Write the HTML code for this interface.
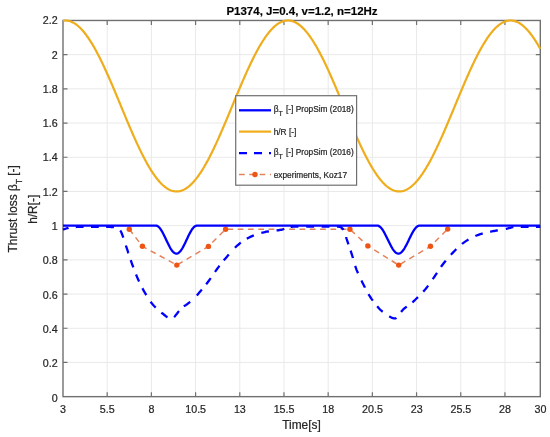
<!DOCTYPE html>
<html><head><meta charset="utf-8"><title>P1374</title>
<style>
html,body{margin:0;padding:0;background:#fff;}
body{width:550px;height:437px;overflow:hidden;}
svg{display:block;font-family:'Liberation Sans', Arial, Helvetica, sans-serif;}
text{stroke:#262626;stroke-width:0.22px;}
</style></head><body>
<svg width="550" height="437" viewBox="0 0 550 437">
<rect x="0" y="0" width="550" height="437" fill="#ffffff"/>
<path d="M107.19 20.47V396.65M151.39 20.47V396.65M195.58 20.47V396.65M239.78 20.47V396.65M283.97 20.47V396.65M328.17 20.47V396.65M372.36 20.47V396.65M416.56 20.47V396.65M460.75 20.47V396.65M504.94 20.47V396.65M63.00 362.45H540.30M63.00 328.25H540.30M63.00 294.06H540.30M63.00 259.86H540.30M63.00 225.66H540.30M63.00 191.46H540.30M63.00 157.26H540.30M63.00 123.06H540.30M63.00 88.87H540.30M63.00 54.67H540.30" stroke="#e9e9e9" stroke-width="1" fill="none"/>
<rect x="63.00" y="20.47" width="477.30" height="376.18" fill="none" stroke="#707070" stroke-width="1.4"/>
<path d="M107.19 396.65v-4.5M107.19 20.47v4.5M151.39 396.65v-4.5M151.39 20.47v4.5M195.58 396.65v-4.5M195.58 20.47v4.5M239.78 396.65v-4.5M239.78 20.47v4.5M283.97 396.65v-4.5M283.97 20.47v4.5M328.17 396.65v-4.5M328.17 20.47v4.5M372.36 396.65v-4.5M372.36 20.47v4.5M416.56 396.65v-4.5M416.56 20.47v4.5M460.75 396.65v-4.5M460.75 20.47v4.5M504.94 396.65v-4.5M504.94 20.47v4.5M63.00 362.45h4.5M540.30 362.45h-4.5M63.00 328.25h4.5M540.30 328.25h-4.5M63.00 294.06h4.5M540.30 294.06h-4.5M63.00 259.86h4.5M540.30 259.86h-4.5M63.00 225.66h4.5M540.30 225.66h-4.5M63.00 191.46h4.5M540.30 191.46h-4.5M63.00 157.26h4.5M540.30 157.26h-4.5M63.00 123.06h4.5M540.30 123.06h-4.5M63.00 88.87h4.5M540.30 88.87h-4.5M63.00 54.67h4.5M540.30 54.67h-4.5" stroke="#707070" stroke-width="1.2" fill="none"/>
<path d="M63.00 20.64 L63.80 20.54 L64.59 20.49 L65.39 20.47 L66.18 20.50 L66.98 20.57 L67.77 20.68 L68.57 20.84 L69.36 21.04 L70.16 21.29 L70.95 21.57 L71.75 21.90 L72.55 22.27 L73.34 22.68 L74.14 23.14 L74.93 23.63 L75.73 24.17 L76.52 24.75 L77.32 25.37 L78.11 26.03 L78.91 26.73 L79.71 27.47 L80.50 28.25 L81.30 29.07 L82.09 29.93 L82.89 30.83 L83.68 31.76 L84.48 32.74 L85.27 33.75 L86.07 34.79 L86.86 35.87 L87.66 36.99 L88.46 38.14 L89.25 39.33 L90.05 40.55 L90.84 41.80 L91.64 43.08 L92.43 44.40 L93.23 45.75 L94.02 47.12 L94.82 48.53 L95.62 49.97 L96.41 51.43 L97.21 52.92 L98.00 54.44 L98.80 55.99 L99.59 57.56 L100.39 59.15 L101.18 60.77 L101.98 62.41 L102.78 64.07 L103.57 65.75 L104.37 67.46 L105.16 69.18 L105.96 70.92 L106.75 72.68 L107.55 74.46 L108.34 76.25 L109.14 78.06 L109.93 79.88 L110.73 81.71 L111.53 83.56 L112.32 85.42 L113.12 87.29 L113.91 89.16 L114.71 91.05 L115.50 92.94 L116.30 94.84 L117.09 96.75 L117.89 98.66 L118.69 100.57 L119.48 102.49 L120.28 104.41 L121.07 106.33 L121.87 108.25 L122.66 110.17 L123.46 112.08 L124.25 113.99 L125.05 115.90 L125.84 117.81 L126.64 119.70 L127.44 121.60 L128.23 123.48 L129.03 125.35 L129.82 127.22 L130.62 129.07 L131.41 130.91 L132.21 132.74 L133.00 134.56 L133.80 136.36 L134.59 138.15 L135.39 139.92 L136.19 141.67 L136.98 143.40 L137.78 145.12 L138.57 146.82 L139.37 148.49 L140.16 150.15 L140.96 151.78 L141.75 153.39 L142.55 154.97 L143.35 156.53 L144.14 158.07 L144.94 159.58 L145.73 161.06 L146.53 162.51 L147.32 163.94 L148.12 165.33 L148.91 166.70 L149.71 168.03 L150.50 169.34 L151.30 170.61 L152.10 171.85 L152.89 173.06 L153.69 174.23 L154.48 175.37 L155.28 176.47 L156.07 177.54 L156.87 178.57 L157.66 179.57 L158.46 180.52 L159.26 181.44 L160.05 182.33 L160.85 183.17 L161.64 183.98 L162.44 184.74 L163.23 185.47 L164.03 186.15 L164.82 186.80 L165.62 187.40 L166.41 187.97 L167.21 188.49 L168.01 188.97 L168.80 189.41 L169.60 189.81 L170.39 190.16 L171.19 190.47 L171.98 190.74 L172.78 190.97 L173.57 191.15 L174.37 191.29 L175.17 191.39 L175.96 191.45 L176.76 191.46 L177.55 191.43 L178.35 191.35 L179.14 191.24 L179.94 191.08 L180.73 190.87 L181.53 190.63 L182.32 190.34 L183.12 190.01 L183.92 189.63 L184.71 189.22 L185.51 188.76 L186.30 188.26 L187.10 187.72 L187.89 187.14 L188.69 186.52 L189.48 185.85 L190.28 185.15 L191.08 184.41 L191.87 183.62 L192.67 182.80 L193.46 181.94 L194.26 181.04 L195.05 180.10 L195.85 179.13 L196.64 178.12 L197.44 177.07 L198.23 175.98 L199.03 174.87 L199.83 173.71 L200.62 172.52 L201.42 171.30 L202.21 170.05 L203.01 168.76 L203.80 167.44 L204.60 166.09 L205.39 164.72 L206.19 163.31 L206.99 161.87 L207.78 160.40 L208.58 158.91 L209.37 157.39 L210.17 155.84 L210.96 154.27 L211.76 152.67 L212.55 151.06 L213.35 149.41 L214.15 147.75 L214.94 146.06 L215.74 144.36 L216.53 142.63 L217.33 140.89 L218.12 139.13 L218.92 137.35 L219.71 135.56 L220.51 133.75 L221.30 131.93 L222.10 130.10 L222.90 128.25 L223.69 126.39 L224.49 124.52 L225.28 122.64 L226.08 120.76 L226.87 118.86 L227.67 116.96 L228.46 115.05 L229.26 113.14 L230.05 111.23 L230.85 109.31 L231.65 107.39 L232.44 105.47 L233.24 103.56 L234.03 101.64 L234.83 99.72 L235.62 97.81 L236.42 95.90 L237.21 94.00 L238.01 92.10 L238.81 90.21 L239.60 88.33 L240.40 86.45 L241.19 84.59 L241.99 82.74 L242.78 80.90 L243.58 79.07 L244.37 77.25 L245.17 75.45 L245.96 73.67 L246.76 71.90 L247.56 70.15 L248.35 68.41 L249.15 66.70 L249.94 65.00 L250.74 63.33 L251.53 61.68 L252.33 60.05 L253.12 58.44 L253.92 56.85 L254.72 55.30 L255.51 53.76 L256.31 52.26 L257.10 50.78 L257.90 49.32 L258.69 47.90 L259.49 46.51 L260.28 45.14 L261.08 43.81 L261.88 42.51 L262.67 41.24 L263.47 40.00 L264.26 38.80 L265.06 37.62 L265.85 36.49 L266.65 35.39 L267.44 34.32 L268.24 33.29 L269.03 32.30 L269.83 31.34 L270.63 30.43 L271.42 29.55 L272.22 28.71 L273.01 27.90 L273.81 27.14 L274.60 26.42 L275.40 25.73 L276.19 25.09 L276.99 24.49 L277.78 23.93 L278.58 23.41 L279.38 22.93 L280.17 22.49 L280.97 22.10 L281.76 21.75 L282.56 21.44 L283.35 21.17 L284.15 20.95 L284.94 20.77 L285.74 20.63 L286.54 20.53 L287.33 20.48 L288.13 20.47 L288.92 20.51 L289.72 20.58 L290.51 20.70 L291.31 20.87 L292.10 21.07 L292.90 21.32 L293.69 21.61 L294.49 21.95 L295.29 22.32 L296.08 22.74 L296.88 23.20 L297.67 23.70 L298.47 24.25 L299.26 24.83 L300.06 25.46 L300.85 26.12 L301.65 26.83 L302.45 27.58 L303.24 28.36 L304.04 29.19 L304.83 30.05 L305.63 30.95 L306.42 31.89 L307.22 32.87 L308.01 33.88 L308.81 34.93 L309.60 36.02 L310.40 37.14 L311.20 38.30 L311.99 39.49 L312.79 40.71 L313.58 41.97 L314.38 43.26 L315.17 44.58 L315.97 45.93 L316.76 47.31 L317.56 48.72 L318.36 50.16 L319.15 51.63 L319.95 53.12 L320.74 54.65 L321.54 56.19 L322.33 57.77 L323.13 59.36 L323.92 60.98 L324.72 62.63 L325.51 64.29 L326.31 65.98 L327.11 67.69 L327.90 69.41 L328.70 71.16 L329.49 72.92 L330.29 74.70 L331.08 76.49 L331.88 78.30 L332.67 80.12 L333.47 81.96 L334.27 83.81 L335.06 85.67 L335.86 87.54 L336.65 89.41 L337.45 91.30 L338.24 93.20 L339.04 95.10 L339.83 97.00 L340.63 98.91 L341.42 100.83 L342.22 102.75 L343.02 104.66 L343.81 106.58 L344.61 108.50 L345.40 110.42 L346.20 112.34 L346.99 114.25 L347.79 116.16 L348.58 118.06 L349.38 119.96 L350.18 121.85 L350.97 123.73 L351.77 125.60 L352.56 127.46 L353.36 129.32 L354.15 131.16 L354.95 132.98 L355.74 134.80 L356.54 136.60 L357.33 138.38 L358.13 140.15 L358.93 141.90 L359.72 143.63 L360.52 145.35 L361.31 147.04 L362.11 148.71 L362.90 150.36 L363.70 151.99 L364.49 153.60 L365.29 155.18 L366.09 156.74 L366.88 158.27 L367.68 159.77 L368.47 161.25 L369.27 162.70 L370.06 164.12 L370.86 165.52 L371.65 166.88 L372.45 168.21 L373.25 169.51 L374.04 170.78 L374.84 172.01 L375.63 173.21 L376.43 174.38 L377.22 175.52 L378.02 176.62 L378.81 177.68 L379.61 178.71 L380.40 179.70 L381.20 180.65 L382.00 181.56 L382.79 182.44 L383.59 183.28 L384.38 184.08 L385.18 184.84 L385.97 185.56 L386.77 186.24 L387.56 186.88 L388.36 187.48 L389.15 188.04 L389.95 188.56 L390.75 189.03 L391.54 189.46 L392.34 189.86 L393.13 190.20 L393.93 190.51 L394.72 190.78 L395.52 191.00 L396.31 191.17 L397.11 191.31 L397.91 191.40 L398.70 191.45 L399.50 191.46 L400.29 191.42 L401.09 191.34 L401.88 191.22 L402.68 191.05 L403.47 190.84 L404.27 190.59 L405.06 190.30 L405.86 189.96 L406.66 189.58 L407.45 189.16 L408.25 188.70 L409.04 188.19 L409.84 187.65 L410.63 187.06 L411.43 186.43 L412.22 185.76 L413.02 185.05 L413.82 184.30 L414.61 183.52 L415.41 182.69 L416.20 181.82 L417.00 180.92 L417.79 179.97 L418.59 179.00 L419.38 177.98 L420.18 176.93 L420.97 175.84 L421.77 174.71 L422.57 173.56 L423.36 172.36 L424.16 171.14 L424.95 169.88 L425.75 168.59 L426.54 167.27 L427.34 165.91 L428.13 164.53 L428.93 163.12 L429.73 161.67 L430.52 160.20 L431.32 158.71 L432.11 157.18 L432.91 155.63 L433.70 154.06 L434.50 152.46 L435.29 150.84 L436.09 149.19 L436.88 147.53 L437.68 145.84 L438.48 144.13 L439.27 142.40 L440.07 140.66 L440.86 138.89 L441.66 137.12 L442.45 135.32 L443.25 133.51 L444.04 131.69 L444.84 129.85 L445.64 128.00 L446.43 126.14 L447.23 124.27 L448.02 122.39 L448.82 120.50 L449.61 118.61 L450.41 116.71 L451.20 114.80 L452.00 112.89 L452.80 110.97 L453.59 109.06 L454.39 107.14 L455.18 105.22 L455.98 103.30 L456.77 101.38 L457.57 99.47 L458.36 97.55 L459.16 95.65 L459.95 93.74 L460.75 91.85 L461.55 89.96 L462.34 88.08 L463.14 86.21 L463.93 84.34 L464.73 82.49 L465.52 80.65 L466.32 78.82 L467.11 77.01 L467.91 75.21 L468.70 73.43 L469.50 71.66 L470.30 69.91 L471.09 68.18 L471.89 66.47 L472.68 64.78 L473.48 63.11 L474.27 61.46 L475.07 59.83 L475.86 58.23 L476.66 56.65 L477.46 55.09 L478.25 53.56 L479.05 52.06 L479.84 50.58 L480.64 49.13 L481.43 47.71 L482.23 46.32 L483.02 44.96 L483.82 43.63 L484.62 42.34 L485.41 41.07 L486.21 39.84 L487.00 38.64 L487.80 37.47 L488.59 36.34 L489.39 35.24 L490.18 34.18 L490.98 33.16 L491.77 32.17 L492.57 31.22 L493.37 30.31 L494.16 29.43 L494.96 28.60 L495.75 27.80 L496.55 27.04 L497.34 26.32 L498.14 25.65 L498.93 25.01 L499.73 24.41 L500.52 23.86 L501.32 23.34 L502.12 22.87 L502.91 22.44 L503.71 22.05 L504.50 21.70 L505.30 21.40 L506.09 21.14 L506.89 20.92 L507.68 20.75 L508.48 20.61 L509.28 20.52 L510.07 20.48 L510.87 20.47 L511.66 20.51 L512.46 20.60 L513.25 20.72 L514.05 20.89 L514.84 21.10 L515.64 21.36 L516.43 21.65 L517.23 21.99 L518.03 22.38 L518.82 22.80 L519.62 23.27 L520.41 23.77 L521.21 24.32 L522.00 24.91 L522.80 25.54 L523.59 26.22 L524.39 26.93 L525.19 27.68 L525.98 28.47 L526.78 29.30 L527.57 30.17 L528.37 31.08 L529.16 32.02 L529.96 33.00 L530.75 34.02 L531.55 35.08 L532.35 36.17 L533.14 37.29 L533.94 38.45 L534.73 39.65 L535.53 40.88 L536.32 42.14 L537.12 43.43 L537.91 44.75 L538.71 46.11 L539.50 47.50 L540.30 48.91" stroke="#efad1c" stroke-width="2.2" fill="none" stroke-linejoin="round"/>
<path d="M129.30 229.20 L142.40 246.30 L176.80 265.10 L208.40 246.40 L225.60 229.20 L349.90 229.20 L367.90 245.90 L398.70 265.10 L430.50 246.30 L447.70 229.10" stroke="#e3825d" stroke-width="1.5" fill="none" stroke-dasharray="5.7 4.6"/>
<circle cx="129.30" cy="229.20" r="2.7" fill="#ee5514"/>
<circle cx="142.40" cy="246.30" r="2.7" fill="#ee5514"/>
<circle cx="176.80" cy="265.10" r="2.7" fill="#ee5514"/>
<circle cx="208.40" cy="246.40" r="2.7" fill="#ee5514"/>
<circle cx="225.60" cy="229.20" r="2.7" fill="#ee5514"/>
<circle cx="349.90" cy="229.20" r="2.7" fill="#ee5514"/>
<circle cx="367.90" cy="245.90" r="2.7" fill="#ee5514"/>
<circle cx="398.70" cy="265.10" r="2.7" fill="#ee5514"/>
<circle cx="430.50" cy="246.30" r="2.7" fill="#ee5514"/>
<circle cx="447.70" cy="229.10" r="2.7" fill="#ee5514"/>
<path d="M63.00 225.60 L63.50 225.60 L64.00 225.60 L64.50 225.60 L65.00 225.60 L65.50 225.60 L66.00 225.60 L66.50 225.60 L67.00 225.60 L67.50 225.60 L68.00 225.60 L68.50 225.60 L69.00 225.60 L69.50 225.60 L70.00 225.60 L70.50 225.60 L71.00 225.60 L71.50 225.60 L72.00 225.60 L72.50 225.60 L73.00 225.60 L73.50 225.60 L74.00 225.60 L74.50 225.60 L75.00 225.60 L75.50 225.60 L76.00 225.60 L76.50 225.60 L77.00 225.60 L77.50 225.60 L78.00 225.60 L78.50 225.60 L79.00 225.60 L79.50 225.60 L80.00 225.60 L80.50 225.60 L81.00 225.60 L81.50 225.60 L82.00 225.60 L82.50 225.60 L83.00 225.60 L83.50 225.60 L84.00 225.60 L84.50 225.60 L85.00 225.60 L85.50 225.60 L86.00 225.60 L86.50 225.60 L87.00 225.60 L87.50 225.60 L88.00 225.60 L88.50 225.60 L89.00 225.60 L89.50 225.60 L90.00 225.60 L90.50 225.60 L91.00 225.60 L91.50 225.60 L92.00 225.60 L92.50 225.60 L93.00 225.60 L93.50 225.60 L94.00 225.60 L94.50 225.60 L95.00 225.60 L95.50 225.60 L96.00 225.60 L96.50 225.60 L97.00 225.60 L97.50 225.60 L98.00 225.60 L98.50 225.60 L99.00 225.60 L99.50 225.60 L100.00 225.60 L100.50 225.60 L101.00 225.60 L101.50 225.60 L102.00 225.60 L102.50 225.60 L103.00 225.60 L103.50 225.60 L104.00 225.60 L104.50 225.60 L105.00 225.60 L105.50 225.60 L106.00 225.60 L106.50 225.60 L107.00 225.60 L107.50 225.60 L108.00 225.60 L108.50 225.60 L109.00 225.60 L109.50 225.60 L110.00 225.60 L110.50 225.60 L111.00 225.60 L111.50 225.60 L112.00 225.60 L112.50 225.60 L113.00 225.60 L113.50 225.60 L114.00 225.60 L114.50 225.60 L115.00 225.60 L115.50 225.60 L116.00 225.60 L116.50 225.60 L117.00 225.60 L117.50 225.60 L118.00 225.60 L118.50 225.60 L119.00 225.60 L119.50 225.60 L120.00 225.60 L120.50 225.60 L121.00 225.60 L121.50 225.60 L122.00 225.60 L122.50 225.60 L123.00 225.60 L123.50 225.60 L124.00 225.60 L124.50 225.60 L125.00 225.60 L125.50 225.60 L126.00 225.60 L126.50 225.60 L127.00 225.60 L127.50 225.60 L128.00 225.60 L128.50 225.60 L129.00 225.60 L129.50 225.60 L130.00 225.60 L130.50 225.60 L131.00 225.60 L131.50 225.60 L132.00 225.60 L132.50 225.60 L133.00 225.60 L133.50 225.60 L134.00 225.60 L134.50 225.60 L135.00 225.60 L135.50 225.60 L136.00 225.60 L136.50 225.60 L137.00 225.60 L137.50 225.60 L138.00 225.60 L138.50 225.60 L139.00 225.60 L139.50 225.60 L140.00 225.60 L140.50 225.60 L141.00 225.60 L141.50 225.60 L142.00 225.60 L142.50 225.60 L143.00 225.60 L143.50 225.60 L144.00 225.60 L144.50 225.60 L145.00 225.60 L145.50 225.60 L146.00 225.60 L146.50 225.60 L147.00 225.60 L147.50 225.60 L148.00 225.60 L148.50 225.60 L149.00 225.60 L149.50 225.60 L150.00 225.60 L150.50 225.60 L151.00 225.60 L151.50 225.60 L152.00 225.60 L152.50 225.60 L153.00 225.60 L153.50 225.60 L154.00 225.60 L154.50 225.60 L155.00 225.60 L155.50 225.60 L156.00 225.61 L156.50 225.68 L157.00 225.83 L157.50 226.07 L158.00 226.38 L158.50 226.77 L159.00 227.23 L159.50 227.77 L160.00 228.37 L160.50 229.04 L161.00 229.78 L161.50 230.56 L162.00 231.41 L162.50 232.29 L163.00 233.23 L163.50 234.19 L164.00 235.19 L164.50 236.22 L165.00 237.26 L165.50 238.32 L166.00 239.39 L166.50 240.45 L167.00 241.52 L167.50 242.57 L168.00 243.60 L168.50 244.61 L169.00 245.59 L169.50 246.54 L170.00 247.44 L170.50 248.30 L171.00 249.11 L171.50 249.87 L172.00 250.56 L172.50 251.20 L173.00 251.76 L173.50 252.25 L174.00 252.67 L174.50 253.02 L175.00 253.28 L175.50 253.47 L176.00 253.57 L176.50 253.60 L177.00 253.54 L177.50 253.40 L178.00 253.19 L178.50 252.89 L179.00 252.51 L179.50 252.06 L180.00 251.54 L180.50 250.95 L181.00 250.29 L181.50 249.57 L182.00 248.80 L182.50 247.97 L183.00 247.09 L183.50 246.16 L184.00 245.20 L184.50 244.21 L185.00 243.19 L185.50 242.15 L186.00 241.09 L186.50 240.03 L187.00 238.96 L187.50 237.90 L188.00 236.84 L188.50 235.80 L189.00 234.79 L189.50 233.80 L190.00 232.85 L190.50 231.93 L191.00 231.06 L191.50 230.24 L192.00 229.48 L192.50 228.77 L193.00 228.13 L193.50 227.55 L194.00 227.04 L194.50 226.61 L195.00 226.25 L195.50 225.96 L196.00 225.76 L196.50 225.64 L197.00 225.60 L197.50 225.60 L198.00 225.60 L198.50 225.60 L199.00 225.60 L199.50 225.60 L200.00 225.60 L200.50 225.60 L201.00 225.60 L201.50 225.60 L202.00 225.60 L202.50 225.60 L203.00 225.60 L203.50 225.60 L204.00 225.60 L204.50 225.60 L205.00 225.60 L205.50 225.60 L206.00 225.60 L206.50 225.60 L207.00 225.60 L207.50 225.60 L208.00 225.60 L208.50 225.60 L209.00 225.60 L209.50 225.60 L210.00 225.60 L210.50 225.60 L211.00 225.60 L211.50 225.60 L212.00 225.60 L212.50 225.60 L213.00 225.60 L213.50 225.60 L214.00 225.60 L214.50 225.60 L215.00 225.60 L215.50 225.60 L216.00 225.60 L216.50 225.60 L217.00 225.60 L217.50 225.60 L218.00 225.60 L218.50 225.60 L219.00 225.60 L219.50 225.60 L220.00 225.60 L220.50 225.60 L221.00 225.60 L221.50 225.60 L222.00 225.60 L222.50 225.60 L223.00 225.60 L223.50 225.60 L224.00 225.60 L224.50 225.60 L225.00 225.60 L225.50 225.60 L226.00 225.60 L226.50 225.60 L227.00 225.60 L227.50 225.60 L228.00 225.60 L228.50 225.60 L229.00 225.60 L229.50 225.60 L230.00 225.60 L230.50 225.60 L231.00 225.60 L231.50 225.60 L232.00 225.60 L232.50 225.60 L233.00 225.60 L233.50 225.60 L234.00 225.60 L234.50 225.60 L235.00 225.60 L235.50 225.60 L236.00 225.60 L236.50 225.60 L237.00 225.60 L237.50 225.60 L238.00 225.60 L238.50 225.60 L239.00 225.60 L239.50 225.60 L240.00 225.60 L240.50 225.60 L241.00 225.60 L241.50 225.60 L242.00 225.60 L242.50 225.60 L243.00 225.60 L243.50 225.60 L244.00 225.60 L244.50 225.60 L245.00 225.60 L245.50 225.60 L246.00 225.60 L246.50 225.60 L247.00 225.60 L247.50 225.60 L248.00 225.60 L248.50 225.60 L249.00 225.60 L249.50 225.60 L250.00 225.60 L250.50 225.60 L251.00 225.60 L251.50 225.60 L252.00 225.60 L252.50 225.60 L253.00 225.60 L253.50 225.60 L254.00 225.60 L254.50 225.60 L255.00 225.60 L255.50 225.60 L256.00 225.60 L256.50 225.60 L257.00 225.60 L257.50 225.60 L258.00 225.60 L258.50 225.60 L259.00 225.60 L259.50 225.60 L260.00 225.60 L260.50 225.60 L261.00 225.60 L261.50 225.60 L262.00 225.60 L262.50 225.60 L263.00 225.60 L263.50 225.60 L264.00 225.60 L264.50 225.60 L265.00 225.60 L265.50 225.60 L266.00 225.60 L266.50 225.60 L267.00 225.60 L267.50 225.60 L268.00 225.60 L268.50 225.60 L269.00 225.60 L269.50 225.60 L270.00 225.60 L270.50 225.60 L271.00 225.60 L271.50 225.60 L272.00 225.60 L272.50 225.60 L273.00 225.60 L273.50 225.60 L274.00 225.60 L274.50 225.60 L275.00 225.60 L275.50 225.60 L276.00 225.60 L276.50 225.60 L277.00 225.60 L277.50 225.60 L278.00 225.60 L278.50 225.60 L279.00 225.60 L279.50 225.60 L280.00 225.60 L280.50 225.60 L281.00 225.60 L281.50 225.60 L282.00 225.60 L282.50 225.60 L283.00 225.60 L283.50 225.60 L284.00 225.60 L284.50 225.60 L285.00 225.60 L285.50 225.60 L286.00 225.60 L286.50 225.60 L287.00 225.60 L287.50 225.60 L288.00 225.60 L288.50 225.60 L289.00 225.60 L289.50 225.60 L290.00 225.60 L290.50 225.60 L291.00 225.60 L291.50 225.60 L292.00 225.60 L292.50 225.60 L293.00 225.60 L293.50 225.60 L294.00 225.60 L294.50 225.60 L295.00 225.60 L295.50 225.60 L296.00 225.60 L296.50 225.60 L297.00 225.60 L297.50 225.60 L298.00 225.60 L298.50 225.60 L299.00 225.60 L299.50 225.60 L300.00 225.60 L300.50 225.60 L301.00 225.60 L301.50 225.60 L302.00 225.60 L302.50 225.60 L303.00 225.60 L303.50 225.60 L304.00 225.60 L304.50 225.60 L305.00 225.60 L305.50 225.60 L306.00 225.60 L306.50 225.60 L307.00 225.60 L307.50 225.60 L308.00 225.60 L308.50 225.60 L309.00 225.60 L309.50 225.60 L310.00 225.60 L310.50 225.60 L311.00 225.60 L311.50 225.60 L312.00 225.60 L312.50 225.60 L313.00 225.60 L313.50 225.60 L314.00 225.60 L314.50 225.60 L315.00 225.60 L315.50 225.60 L316.00 225.60 L316.50 225.60 L317.00 225.60 L317.50 225.60 L318.00 225.60 L318.50 225.60 L319.00 225.60 L319.50 225.60 L320.00 225.60 L320.50 225.60 L321.00 225.60 L321.50 225.60 L322.00 225.60 L322.50 225.60 L323.00 225.60 L323.50 225.60 L324.00 225.60 L324.50 225.60 L325.00 225.60 L325.50 225.60 L326.00 225.60 L326.50 225.60 L327.00 225.60 L327.50 225.60 L328.00 225.60 L328.50 225.60 L329.00 225.60 L329.50 225.60 L330.00 225.60 L330.50 225.60 L331.00 225.60 L331.50 225.60 L332.00 225.60 L332.50 225.60 L333.00 225.60 L333.50 225.60 L334.00 225.60 L334.50 225.60 L335.00 225.60 L335.50 225.60 L336.00 225.60 L336.50 225.60 L337.00 225.60 L337.50 225.60 L338.00 225.60 L338.50 225.60 L339.00 225.60 L339.50 225.60 L340.00 225.60 L340.50 225.60 L341.00 225.60 L341.50 225.60 L342.00 225.60 L342.50 225.60 L343.00 225.60 L343.50 225.60 L344.00 225.60 L344.50 225.60 L345.00 225.60 L345.50 225.60 L346.00 225.60 L346.50 225.60 L347.00 225.60 L347.50 225.60 L348.00 225.60 L348.50 225.60 L349.00 225.60 L349.50 225.60 L350.00 225.60 L350.50 225.60 L351.00 225.60 L351.50 225.60 L352.00 225.60 L352.50 225.60 L353.00 225.60 L353.50 225.60 L354.00 225.60 L354.50 225.60 L355.00 225.60 L355.50 225.60 L356.00 225.60 L356.50 225.60 L357.00 225.60 L357.50 225.60 L358.00 225.60 L358.50 225.60 L359.00 225.60 L359.50 225.60 L360.00 225.60 L360.50 225.60 L361.00 225.60 L361.50 225.60 L362.00 225.60 L362.50 225.60 L363.00 225.60 L363.50 225.60 L364.00 225.60 L364.50 225.60 L365.00 225.60 L365.50 225.60 L366.00 225.60 L366.50 225.60 L367.00 225.60 L367.50 225.60 L368.00 225.60 L368.50 225.60 L369.00 225.60 L369.50 225.60 L370.00 225.60 L370.50 225.60 L371.00 225.60 L371.50 225.60 L372.00 225.60 L372.50 225.60 L373.00 225.60 L373.50 225.60 L374.00 225.60 L374.50 225.60 L375.00 225.60 L375.50 225.60 L376.00 225.60 L376.50 225.60 L377.00 225.60 L377.50 225.61 L378.00 225.70 L378.50 225.86 L379.00 226.10 L379.50 226.41 L380.00 226.79 L380.50 227.24 L381.00 227.76 L381.50 228.35 L382.00 228.99 L382.50 229.70 L383.00 230.46 L383.50 231.27 L384.00 232.13 L384.50 233.02 L385.00 233.96 L385.50 234.92 L386.00 235.91 L386.50 236.92 L387.00 237.94 L387.50 238.98 L388.00 240.01 L388.50 241.05 L389.00 242.08 L389.50 243.09 L390.00 244.08 L390.50 245.05 L391.00 245.99 L391.50 246.90 L392.00 247.76 L392.50 248.58 L393.00 249.35 L393.50 250.07 L394.00 250.73 L394.50 251.33 L395.00 251.86 L395.50 252.33 L396.00 252.72 L396.50 253.05 L397.00 253.30 L397.50 253.48 L398.00 253.58 L398.50 253.60 L399.00 253.54 L399.50 253.41 L400.00 253.21 L400.50 252.93 L401.00 252.57 L401.50 252.15 L402.00 251.65 L402.50 251.09 L403.00 250.47 L403.50 249.79 L404.00 249.05 L404.50 248.26 L405.00 247.42 L405.50 246.54 L406.00 245.62 L406.50 244.67 L407.00 243.69 L407.50 242.69 L408.00 241.67 L408.50 240.64 L409.00 239.60 L409.50 238.56 L410.00 237.53 L410.50 236.51 L411.00 235.51 L411.50 234.53 L412.00 233.58 L412.50 232.66 L413.00 231.78 L413.50 230.94 L414.00 230.15 L414.50 229.41 L415.00 228.73 L415.50 228.11 L416.00 227.55 L416.50 227.05 L417.00 226.63 L417.50 226.27 L418.00 225.99 L418.50 225.79 L419.00 225.66 L419.50 225.60 L420.00 225.60 L420.50 225.60 L421.00 225.60 L421.50 225.60 L422.00 225.60 L422.50 225.60 L423.00 225.60 L423.50 225.60 L424.00 225.60 L424.50 225.60 L425.00 225.60 L425.50 225.60 L426.00 225.60 L426.50 225.60 L427.00 225.60 L427.50 225.60 L428.00 225.60 L428.50 225.60 L429.00 225.60 L429.50 225.60 L430.00 225.60 L430.50 225.60 L431.00 225.60 L431.50 225.60 L432.00 225.60 L432.50 225.60 L433.00 225.60 L433.50 225.60 L434.00 225.60 L434.50 225.60 L435.00 225.60 L435.50 225.60 L436.00 225.60 L436.50 225.60 L437.00 225.60 L437.50 225.60 L438.00 225.60 L438.50 225.60 L439.00 225.60 L439.50 225.60 L440.00 225.60 L440.50 225.60 L441.00 225.60 L441.50 225.60 L442.00 225.60 L442.50 225.60 L443.00 225.60 L443.50 225.60 L444.00 225.60 L444.50 225.60 L445.00 225.60 L445.50 225.60 L446.00 225.60 L446.50 225.60 L447.00 225.60 L447.50 225.60 L448.00 225.60 L448.50 225.60 L449.00 225.60 L449.50 225.60 L450.00 225.60 L450.50 225.60 L451.00 225.60 L451.50 225.60 L452.00 225.60 L452.50 225.60 L453.00 225.60 L453.50 225.60 L454.00 225.60 L454.50 225.60 L455.00 225.60 L455.50 225.60 L456.00 225.60 L456.50 225.60 L457.00 225.60 L457.50 225.60 L458.00 225.60 L458.50 225.60 L459.00 225.60 L459.50 225.60 L460.00 225.60 L460.50 225.60 L461.00 225.60 L461.50 225.60 L462.00 225.60 L462.50 225.60 L463.00 225.60 L463.50 225.60 L464.00 225.60 L464.50 225.60 L465.00 225.60 L465.50 225.60 L466.00 225.60 L466.50 225.60 L467.00 225.60 L467.50 225.60 L468.00 225.60 L468.50 225.60 L469.00 225.60 L469.50 225.60 L470.00 225.60 L470.50 225.60 L471.00 225.60 L471.50 225.60 L472.00 225.60 L472.50 225.60 L473.00 225.60 L473.50 225.60 L474.00 225.60 L474.50 225.60 L475.00 225.60 L475.50 225.60 L476.00 225.60 L476.50 225.60 L477.00 225.60 L477.50 225.60 L478.00 225.60 L478.50 225.60 L479.00 225.60 L479.50 225.60 L480.00 225.60 L480.50 225.60 L481.00 225.60 L481.50 225.60 L482.00 225.60 L482.50 225.60 L483.00 225.60 L483.50 225.60 L484.00 225.60 L484.50 225.60 L485.00 225.60 L485.50 225.60 L486.00 225.60 L486.50 225.60 L487.00 225.60 L487.50 225.60 L488.00 225.60 L488.50 225.60 L489.00 225.60 L489.50 225.60 L490.00 225.60 L490.50 225.60 L491.00 225.60 L491.50 225.60 L492.00 225.60 L492.50 225.60 L493.00 225.60 L493.50 225.60 L494.00 225.60 L494.50 225.60 L495.00 225.60 L495.50 225.60 L496.00 225.60 L496.50 225.60 L497.00 225.60 L497.50 225.60 L498.00 225.60 L498.50 225.60 L499.00 225.60 L499.50 225.60 L500.00 225.60 L500.50 225.60 L501.00 225.60 L501.50 225.60 L502.00 225.60 L502.50 225.60 L503.00 225.60 L503.50 225.60 L504.00 225.60 L504.50 225.60 L505.00 225.60 L505.50 225.60 L506.00 225.60 L506.50 225.60 L507.00 225.60 L507.50 225.60 L508.00 225.60 L508.50 225.60 L509.00 225.60 L509.50 225.60 L510.00 225.60 L510.50 225.60 L511.00 225.60 L511.50 225.60 L512.00 225.60 L512.50 225.60 L513.00 225.60 L513.50 225.60 L514.00 225.60 L514.50 225.60 L515.00 225.60 L515.50 225.60 L516.00 225.60 L516.50 225.60 L517.00 225.60 L517.50 225.60 L518.00 225.60 L518.50 225.60 L519.00 225.60 L519.50 225.60 L520.00 225.60 L520.50 225.60 L521.00 225.60 L521.50 225.60 L522.00 225.60 L522.50 225.60 L523.00 225.60 L523.50 225.60 L524.00 225.60 L524.50 225.60 L525.00 225.60 L525.50 225.60 L526.00 225.60 L526.50 225.60 L527.00 225.60 L527.50 225.60 L528.00 225.60 L528.50 225.60 L529.00 225.60 L529.50 225.60 L530.00 225.60 L530.50 225.60 L531.00 225.60 L531.50 225.60 L532.00 225.60 L532.50 225.60 L533.00 225.60 L533.50 225.60 L534.00 225.60 L534.50 225.60 L535.00 225.60 L535.50 225.60 L536.00 225.60 L536.50 225.60 L537.00 225.60 L537.50 225.60 L538.00 225.60 L538.50 225.60 L539.00 225.60 L539.50 225.60 L540.00 225.60" stroke="#0000ff" stroke-width="2.3" fill="none" stroke-linejoin="round"/>
<path d="M63.00 229.60L63.17 229.54L63.38 229.47L63.62 229.38L63.89 229.28L64.18 229.17L64.50 229.06L64.83 228.95L65.17 228.83L65.51 228.71L65.85 228.60L66.18 228.50L66.50 228.40L66.81 228.31L67.13 228.21L67.45 228.12L67.78 228.03L68.11 227.94L68.44 227.85L68.46 227.84M75.78 226.98L75.88 226.98L76.89 226.96L78.01 226.95L79.22 226.94L80.51 226.93L81.84 226.93L83.22 226.92L83.58 226.92M90.98 226.90L91.27 226.90L92.58 226.89L93.91 226.89L95.26 226.89L96.60 226.88L97.94 226.88L98.78 226.88M106.18 226.91L106.78 226.92L107.59 226.92L108.33 226.93L109.03 226.94L109.69 226.96L110.30 226.97L110.89 226.99L111.45 227.01L111.98 227.04L112.50 227.07L113.00 227.10L113.48 227.14L113.91 227.17L113.98 227.18M120.24 230.54L120.31 230.63L120.48 230.84L120.64 231.08L120.82 231.36L121.01 231.70L121.21 232.13L121.45 232.64L121.71 233.26L122.00 234.00L122.33 234.88L122.70 235.90L123.09 237.04L123.30 237.68M125.88 245.50L126.23 246.57L126.67 247.92L127.10 249.20L127.51 250.44L127.92 251.67L128.32 252.90L128.33 252.90M130.71 260.12L130.74 260.19L131.15 261.40L131.57 262.60L132.00 263.80L132.43 265.00L132.87 266.20L133.30 267.39L133.33 267.47M135.98 274.41L136.02 274.49L136.50 275.67L136.99 276.84L137.50 278.00L138.02 279.16L138.54 280.32L139.06 281.47L139.10 281.56M142.41 288.29L142.44 288.33L143.04 289.46L143.66 290.58L144.30 291.70L144.95 292.82L145.61 293.95L146.27 295.07M150.59 301.74L150.59 301.74L151.37 302.79L152.17 303.81L153.00 304.80L153.88 305.78L154.83 306.75L155.71 307.61M161.38 312.53L162.00 313.04L162.89 313.76L163.70 314.42L164.40 315.00L165.00 315.50L165.52 315.92L165.98 316.27L166.37 316.56L166.71 316.79L167.01 316.99L167.27 317.15L167.52 317.29L167.54 317.30M174.08 317.07L174.19 316.96L174.42 316.71L174.66 316.45L174.90 316.17L175.15 315.87L175.41 315.55L175.68 315.22L175.97 314.86L176.28 314.49L176.60 314.10L176.94 313.68L177.30 313.21L177.68 312.70L178.07 312.17L178.48 311.63L178.89 311.07L178.95 310.99M183.81 306.29L184.21 306.04L184.67 305.77L185.15 305.49L185.63 305.19L186.11 304.89L186.60 304.56L187.10 304.20L187.61 303.82L188.13 303.43L188.66 303.03L189.20 302.61L189.74 302.19L190.20 301.83M196.77 295.57L197.14 295.15L197.63 294.58L198.14 293.97L198.70 293.31L199.30 292.60L199.95 291.83L200.64 291.00L201.37 290.12L201.80 289.61M206.12 284.29L206.16 284.24L206.96 283.22L207.74 282.20L208.50 281.20L209.24 280.20L209.97 279.18L210.70 278.15L210.78 278.03M214.93 271.97L215.01 271.85L215.73 270.82L216.46 269.80L217.20 268.80L217.94 267.82L218.67 266.85L219.39 265.90L219.55 265.69M223.78 260.37L223.85 260.29L224.64 259.34L225.46 258.38L226.30 257.40L227.17 256.39L228.07 255.35L228.85 254.45M234.95 247.76L235.80 246.92L236.80 245.98L237.80 245.10L238.80 244.26L239.80 243.46L240.80 242.68L240.84 242.66M246.84 238.71L246.99 238.62L248.07 238.03L249.17 237.45L250.30 236.90L251.45 236.37L252.63 235.86L253.83 235.38L253.88 235.36M261.32 232.95L262.58 232.61L263.84 232.30L265.10 232.00L266.38 231.73L267.72 231.49L268.94 231.31M276.54 230.47L277.14 230.40L278.32 230.26L279.41 230.12L280.40 229.95L281.28 229.77L282.06 229.59L282.75 229.40L283.38 229.21L283.94 229.01L284.16 228.93M290.63 227.04L290.97 226.97L291.53 226.88L292.14 226.80L292.83 226.73L293.61 226.66L294.50 226.60L295.51 226.55L296.62 226.52L297.83 226.50L298.40 226.49M306.30 226.49L307.53 226.50L308.90 226.50L310.20 226.50L311.47 226.50L312.73 226.49L313.99 226.49L314.10 226.49M321.63 226.48L322.62 226.49L323.82 226.49L325.00 226.50L326.20 226.51L327.44 226.51L328.71 226.51L329.43 226.51M336.96 226.61L337.74 226.64L338.50 226.70L339.13 226.76L339.65 226.83L340.06 226.90L340.39 226.97L340.64 227.05L340.84 227.14L341.00 227.25L341.14 227.36L341.27 227.49L341.41 227.64L341.59 227.81L341.80 228.00L342.04 228.20L342.26 228.39L342.47 228.59L342.68 228.79L342.88 229.01L343.07 229.26L343.27 229.53L343.47 229.83L343.51 229.90M346.06 236.97L346.09 237.10L346.35 237.96L346.61 238.85L346.90 239.76L347.20 240.70L347.52 241.67L347.87 242.69L348.23 243.75L348.45 244.39M350.58 250.60L350.60 250.68L351.01 251.88L351.41 253.09L351.80 254.30L352.18 255.52L352.55 256.76L352.92 258.02L352.92 258.03M355.22 265.92L355.60 267.08L356.04 268.35L356.50 269.60L356.99 270.84L357.49 272.08L357.98 273.21M361.45 280.61L362.02 281.76L362.61 282.93L363.20 284.10L363.79 285.26L364.37 286.42L364.96 287.57L364.96 287.58M368.54 294.19L368.61 294.30L369.25 295.38L369.92 296.45L370.60 297.50L371.31 298.56L372.06 299.62L372.83 300.70M377.21 306.28L377.63 306.78L378.39 307.65L379.12 308.46L379.80 309.20L380.45 309.86L381.09 310.46L381.70 310.99L382.30 311.47L382.72 311.78M389.24 316.23L389.32 316.29L389.67 316.52L390.01 316.73L390.34 316.93L390.67 317.12L391.00 317.30L391.32 317.46L391.63 317.62L391.93 317.75L392.22 317.88L392.50 317.99L392.77 318.09L393.04 318.17L393.30 318.24L393.56 318.30L393.81 318.35L394.06 318.38L394.30 318.40L394.54 318.41L394.76 318.41L394.98 318.40L395.19 318.38L395.39 318.34L395.59 318.29L395.78 318.23L395.98 318.14L396.18 318.04L396.38 317.92L396.42 317.89M401.12 311.92L401.41 311.55L401.76 311.11L402.13 310.67L402.50 310.24L402.89 309.81L403.29 309.40L403.70 309.00L404.13 308.61L404.58 308.23L405.04 307.86L405.53 307.50L406.02 307.13L406.52 306.77L406.77 306.60M412.32 302.43L412.35 302.40L412.79 302.04L413.26 301.63L413.78 301.16L414.36 300.62L415.00 300.00L415.72 299.30L416.51 298.52L417.37 297.68L417.98 297.07M423.23 291.63L424.04 290.74L424.94 289.71L425.80 288.70L426.62 287.69L427.42 286.66L428.20 285.63M432.69 279.21L432.71 279.18L433.44 278.11L434.17 277.05L434.90 276.00L435.62 274.96L436.32 273.92L437.00 272.89L437.08 272.77M441.00 266.85L441.08 266.73L441.80 265.72L442.54 264.71L443.30 263.70L444.09 262.69L444.89 261.69L445.71 260.68L445.73 260.65M450.90 254.72L451.79 253.77L452.69 252.83L453.60 251.90L454.51 250.98L455.43 250.06L456.36 249.14L456.36 249.14M462.08 243.94L462.11 243.91L463.12 243.11L464.15 242.34L465.20 241.60L466.27 240.89L467.36 240.20L468.47 239.54L468.50 239.52M475.38 236.05L475.41 236.03L476.61 235.53L477.80 235.05L479.00 234.60L480.23 234.17L481.50 233.78L482.72 233.43M490.17 231.76L490.64 231.67L491.83 231.43L492.96 231.21L494.00 231.00L494.97 230.81L495.88 230.64L496.73 230.50L497.53 230.38L497.84 230.33M505.82 228.97L506.03 228.92L506.59 228.77L507.13 228.63L507.65 228.50L508.16 228.36L508.66 228.23L509.13 228.11L509.60 228.00L510.02 227.89L510.38 227.79L510.70 227.69L510.99 227.59L511.26 227.50L511.53 227.41L511.81 227.32L512.13 227.24L512.49 227.17L512.91 227.11L513.37 227.05M520.77 226.89L520.77 226.89L521.79 226.90L522.84 226.90L523.91 226.90L525.00 226.90L526.17 226.90L527.48 226.89L528.57 226.89M535.97 226.90L536.17 226.90L537.45 226.90L538.59 226.90L539.55 226.90L540.30 226.90" stroke="#0000ff" stroke-width="2.3" fill="none" stroke-linejoin="round" stroke-linecap="butt"/>
<text x="63.10" y="413.35" font-size="10.7" text-anchor="middle" fill="#262626">3</text>
<text x="107.29" y="413.35" font-size="10.7" text-anchor="middle" fill="#262626">5.5</text>
<text x="151.49" y="413.35" font-size="10.7" text-anchor="middle" fill="#262626">8</text>
<text x="195.68" y="413.35" font-size="10.7" text-anchor="middle" fill="#262626">10.5</text>
<text x="239.88" y="413.35" font-size="10.7" text-anchor="middle" fill="#262626">13</text>
<text x="284.07" y="413.35" font-size="10.7" text-anchor="middle" fill="#262626">15.5</text>
<text x="328.27" y="413.35" font-size="10.7" text-anchor="middle" fill="#262626">18</text>
<text x="372.46" y="413.35" font-size="10.7" text-anchor="middle" fill="#262626">20.5</text>
<text x="416.66" y="413.35" font-size="10.7" text-anchor="middle" fill="#262626">23</text>
<text x="460.85" y="413.35" font-size="10.7" text-anchor="middle" fill="#262626">25.5</text>
<text x="505.04" y="413.35" font-size="10.7" text-anchor="middle" fill="#262626">28</text>
<text x="540.40" y="413.35" font-size="10.7" text-anchor="middle" fill="#262626">30</text>
<text x="57.6" y="401.58" font-size="10.7" text-anchor="end" fill="#262626">0</text>
<text x="57.6" y="367.28" font-size="10.7" text-anchor="end" fill="#262626">0.2</text>
<text x="57.6" y="332.98" font-size="10.7" text-anchor="end" fill="#262626">0.4</text>
<text x="57.6" y="298.69" font-size="10.7" text-anchor="end" fill="#262626">0.6</text>
<text x="57.6" y="264.39" font-size="10.7" text-anchor="end" fill="#262626">0.8</text>
<text x="57.6" y="230.09" font-size="10.7" text-anchor="end" fill="#262626">1</text>
<text x="57.6" y="195.79" font-size="10.7" text-anchor="end" fill="#262626">1.2</text>
<text x="57.6" y="161.49" font-size="10.7" text-anchor="end" fill="#262626">1.4</text>
<text x="57.6" y="127.19" font-size="10.7" text-anchor="end" fill="#262626">1.6</text>
<text x="57.6" y="92.90" font-size="10.7" text-anchor="end" fill="#262626">1.8</text>
<text x="57.6" y="58.60" font-size="10.7" text-anchor="end" fill="#262626">2</text>
<text x="57.6" y="24.30" font-size="10.7" text-anchor="end" fill="#262626">2.2</text>
<text x="302" y="14.8" font-size="11.5" font-weight="bold" text-anchor="middle" fill="#000">P1374, J=0.4, v=1.2, n=12Hz</text>
<text x="301.5" y="428.7" font-size="11.9" text-anchor="middle" fill="#262626">Time[s]</text>
<g transform="translate(17.1 208.75) rotate(-90)"><text x="0" y="0" font-size="11.9" text-anchor="middle" fill="#262626">Thrust loss β<tspan font-size="8.4" dy="5">T</tspan><tspan dy="-5"> [-]</tspan></text></g>
<g transform="translate(36.9 209.3) rotate(-90)"><text x="0" y="0" font-size="11.9" text-anchor="middle" fill="#262626">h/R[-]</text></g>
<rect x="235.7" y="95.7" width="120.90" height="89.50" fill="#fff" stroke="#707070" stroke-width="1.2"/>
<path d="M239 110.3H271" stroke="#0000ff" stroke-width="2.3"/>
<path d="M239 131.6H271" stroke="#efad1c" stroke-width="2.2"/>
<path d="M239 153.2H271" stroke="#0000ff" stroke-width="2.3" stroke-dasharray="8 7"/>
<path d="M239 174.5H271" stroke="#e3825d" stroke-width="1.5" stroke-dasharray="5.7 4.6"/>
<circle cx="255" cy="174.5" r="2.7" fill="#ee5514"/>
<text x="273.7" y="111.80" font-size="8.3" fill="#262626">β<tspan font-size="7" dy="3.9">T</tspan><tspan dx="0.9" dy="-3.9"> [-] PropSim (2018)</tspan></text>
<text x="273.7" y="134.80" font-size="8.3" fill="#262626">h/R [-]</text>
<text x="273.7" y="154.80" font-size="8.3" fill="#262626">β<tspan font-size="7" dy="3.9">T</tspan><tspan dx="0.9" dy="-3.9"> [-] PropSim (2016)</tspan></text>
<text x="273.7" y="177.90" font-size="8.3" fill="#262626">experiments, Koz17</text>
</svg>
</body></html>
